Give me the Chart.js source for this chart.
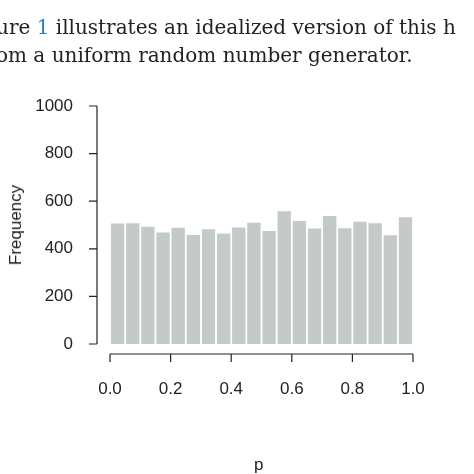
<!DOCTYPE html>
<html lang="en">
<head>
<meta charset="UTF-8">
<script src="https://cdn.jsdelivr.net/npm/chart.js"></script>
<style>
  body { margin: 0; background: #fff; }
  #wrap { position: relative; width: 474px; height: 474px; overflow: hidden; }
  .txt { position: absolute; font-family: "DejaVu Serif", "Liberation Serif", serif; font-size: 20px; color: #222; white-space: nowrap; }
  .lbl { position: absolute; font-family: "Liberation Sans", Arial, sans-serif; font-size: 17px; color: #222; }
</style>
</head>
<body>
<div id="wrap">
  <canvas id="c" width="474" height="474"></canvas>
  <div class="txt" style="left:-4px; top:15px;">ure <span style="color:#2a7fc9">1</span> illustrates an idealized version of this h</div>
  <div class="txt" style="left:-4px; top:43px;">om a uniform random number generator.</div>
  <div class="lbl" style="left:254px; top:455px;">p</div>
  <div class="lbl" style="left:16px; top:225px; transform: translate(-50%,-50%) rotate(-90deg);">Frequency</div>
</div>
<script>
const binCenters = [0.025,0.075,0.125,0.175,0.225,0.275,0.325,0.375,0.425,0.475,0.525,0.575,0.625,0.675,0.725,0.775,0.825,0.875,0.925,0.975];
const counts = [506,507,493,469,488,458,482,464,490,509,475,558,517,485,538,486,514,507,457,533];
const xTicks = [0, 0.2, 0.4, 0.6, 0.8, 1.0];
const yTicks = [0, 200, 400, 600, 800, 1000];

const axesPlugin = {
  id: 'rAxes',
  afterDraw(chart) {
    const ctx = chart.ctx, x = chart.scales.x, y = chart.scales.y;
    ctx.save();
    ctx.strokeStyle = '#222'; ctx.lineWidth = 1.2;
    ctx.fillStyle = '#222'; ctx.font = '17px "Liberation Sans", Arial, sans-serif';
    // y axis
    const ax = 97;
    ctx.beginPath();
    ctx.moveTo(ax, y.getPixelForValue(0)); ctx.lineTo(ax, y.getPixelForValue(1000));
    yTicks.forEach(v => { const p = y.getPixelForValue(v); ctx.moveTo(ax, p); ctx.lineTo(ax - 8, p); });
    ctx.stroke();
    ctx.textAlign = 'right'; ctx.textBaseline = 'middle';
    yTicks.forEach(v => ctx.fillText(String(v), 73, y.getPixelForValue(v)));
    // x axis
    const ay = 354;
    ctx.beginPath();
    ctx.moveTo(x.getPixelForValue(0), ay); ctx.lineTo(x.getPixelForValue(1), ay);
    xTicks.forEach(v => { const p = x.getPixelForValue(v); ctx.moveTo(p, ay); ctx.lineTo(p, ay + 8); });
    ctx.stroke();
    ctx.textAlign = 'center'; ctx.textBaseline = 'middle';
    xTicks.forEach(v => ctx.fillText(v.toFixed(1), x.getPixelForValue(v), 389));
    ctx.restore();
  }
};

new Chart(document.getElementById('c'), {
  type: 'bar',
  data: {
    datasets: [{
      data: binCenters.map((b, i) => ({ x: b, y: counts[i] })),
      backgroundColor: '#c3cac8',
      borderWidth: 0,
      barPercentage: 0.88,
      categoryPercentage: 1
    }]
  },
  options: {
    responsive: false,
    animation: false,
    layout: { padding: { left: 110, right: 61, top: 106, bottom: 130 } },
    plugins: { legend: { display: false }, tooltip: { enabled: false } },
    scales: {
      x: { type: 'linear', min: 0, max: 1, offset: false, display: false },
      y: { min: 0, max: 1000, display: false }
    }
  },
  plugins: [axesPlugin]
});
</script>
</body>
</html>
